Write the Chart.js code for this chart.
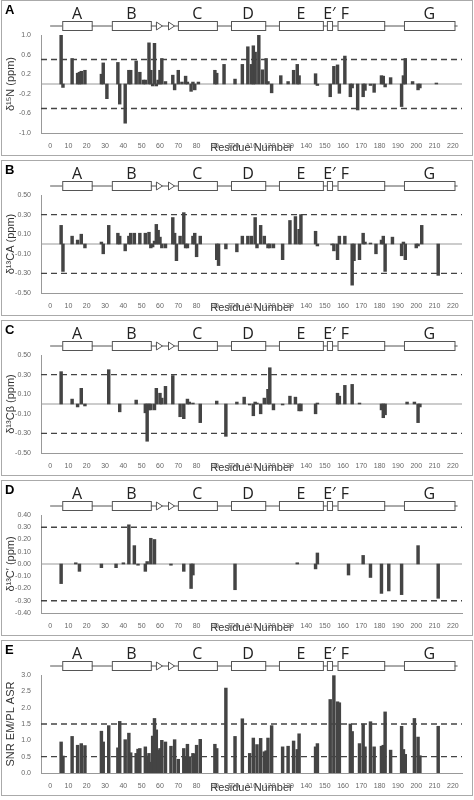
<!DOCTYPE html>
<html>
<head>
<meta charset="utf-8">
<script src="https://cdn.jsdelivr.net/npm/chart.js@4"></script>
<style>
  body { margin: 0; background: #fff; font-family: "Open Sans", "DejaVu Sans", sans-serif; }
  .panel { position: relative; width: 470px; height: 154px; margin: 0 0 4px 1px; border: 1px solid #aaa; }
  .panel .tag { position: absolute; left: 3px; top: 1px; font: bold 13px Arial, "Liberation Sans", sans-serif; }
</style>
</head>
<body>
<div class="panel"><span class="tag">A</span><canvas id="cA"></canvas></div>
<div class="panel"><span class="tag">B</span><canvas id="cB"></canvas></div>
<div class="panel"><span class="tag">C</span><canvas id="cC"></canvas></div>
<div class="panel"><span class="tag">D</span><canvas id="cD"></canvas></div>
<div class="panel"><span class="tag">E</span><canvas id="cE"></canvas></div>
<script>
// secondary structure (residue ranges)
const helixNames = ["A", "B", "C", "D", "E", "E\u2032", "F", "G"];
const helixStart = [6.6, 33.7, 69.8, 98.8, 125, 151.2, 157, 193.3];
const helixEnd   = [22.7, 55, 91.1, 117.5, 149, 154, 182.5, 220.9];
const strandPos  = [59.7, 66.3];

// A: 15N
const aRes = [6,7,12,15,16,17,19,28,29,31,37,38,41,43,44,47,49,51,52,54,55,56,57,58,59,60,61,63,67,68,70,72,74,75,77,78,79,81,90,91,95,101,105,108,110,111,112,114,116,118,119,121,126,130,133,135,136,145,146,153,155,157,158,161,164,165,168,171,172,175,177,181,182,183,186,192,193,194,198,201,202,211];
const aVal = [1.0,-0.07,0.52,0.22,0.24,0.26,0.28,0.2,0.43,-0.3,0.44,-0.41,-0.8,0.28,0.28,0.47,0.24,0.08,0.08,0.84,0.28,-0.04,0.83,-0.04,0.08,0.28,0.52,0.05,0.18,-0.12,0.28,0.04,0.16,0.04,-0.15,0.04,-0.12,0.04,0.28,0.22,0.4,0.1,0.4,0.76,0.4,0.78,0.65,1.0,0.29,0.52,0.05,-0.18,0.17,0.05,0.28,0.4,0.17,0.21,-0.03,-0.26,0.36,0.39,-0.19,0.57,-0.26,-0.08,-0.53,-0.26,-0.13,-0.03,-0.17,0.17,0.16,-0.06,0.13,-0.46,0.17,0.52,0.05,-0.12,-0.08,0.02];

// B: 13CA
const bRes = [6,7,12,15,17,19,28,29,32,37,38,41,43,44,46,49,52,54,55,56,57,58,59,60,61,63,67,68,69,71,73,74,75,78,79,80,82,91,92,96,102,105,108,110,112,113,115,117,119,120,122,127,131,134,136,137,145,146,154,155,157,158,161,165,166,169,171,172,175,178,181,182,183,187,192,193,194,200,201,203,212];
const bVal = [0.19,-0.28,0.08,0.04,0.1,-0.04,0.02,-0.1,0.19,0.11,0.08,-0.07,0.08,0.11,0.11,0.11,0.11,0.12,-0.04,-0.03,0.03,0.2,0.14,0.07,-0.04,-0.04,0.27,0.11,-0.17,0.08,0.32,-0.04,-0.04,0.08,0.11,-0.13,0.08,-0.16,-0.22,-0.05,-0.08,0.08,0.08,0.08,0.27,-0.04,0.19,0.08,-0.04,-0.04,-0.04,-0.16,0.24,0.28,0.15,0.3,0.13,-0.02,-0.01,-0.07,-0.16,0.08,0.08,-0.42,-0.17,-0.16,0.11,0.02,0.01,-0.1,0.04,0.08,-0.28,0.07,-0.12,0.02,-0.16,-0.04,-0.02,0.19,-0.32];

// C: 13CB
const cRes = [6,12,15,17,19,32,38,47,52,53,54,55,57,58,60,61,63,67,71,73,75,76,78,82,91,96,102,106,109,111,112,113,115,117,119,120,122,127,131,134,136,137,145,146,157,158,161,165,169,181,182,183,195,199,201,202];
const cVal = [0.33,0.05,-0.03,0.16,-0.02,0.35,-0.08,0.04,-0.09,-0.38,-0.06,-0.06,-0.06,0.16,0.11,0.06,0.18,0.29,-0.13,-0.15,0.05,0.02,0.01,-0.19,0.03,-0.33,0.02,0.07,-0.01,-0.12,0.02,0.01,-0.1,0.06,0.15,0.37,-0.06,-0.01,0.08,0.07,-0.07,-0.07,-0.1,0.01,0.11,0.08,0.19,0.2,0.01,-0.06,-0.14,-0.11,0.02,0.02,-0.19,-0.03];

// D: 13C'
const dRes = [6,14,16,28,36,40,43,46,48,52,53,55,57,66,73,77,78,101,135,145,146,163,171,175,181,185,192,201,212];
const dVal = [-0.16,0.01,-0.06,-0.03,-0.03,0.01,0.32,0.15,-0.01,-0.06,0.02,0.21,0.2,-0.01,-0.06,-0.2,-0.09,-0.21,0.01,-0.04,0.09,-0.09,0.07,-0.11,-0.24,-0.22,-0.25,0.15,-0.28];

// E: SNR ratio
const eRes = [6,7,12,15,17,19,28,29,32,37,38,41,43,44,47,48,49,52,53,54,55,56,57,58,59,60,61,63,66,68,70,73,74,75,76,78,79,80,82,90,91,96,101,105,109,111,113,115,117,118,119,121,127,130,133,135,136,145,146,153,155,157,158,164,165,169,171,172,175,177,181,182,183,186,192,193,194,199,201,202,212];
const eVal = [0.95,0.52,1.12,0.85,0.9,0.84,1.28,0.95,1.45,0.77,1.58,1.02,1.22,0.62,0.6,0.73,0.75,0.8,0.52,0.6,0.33,1.13,1.67,1.32,0.7,0.75,1.0,0.95,0.82,1.02,0.42,0.75,0.5,0.88,0.5,0.6,0.58,0.85,1.03,0.88,0.75,2.6,1.12,1.66,0.6,1.07,0.87,1.06,0.65,0.68,1.07,1.45,0.8,0.82,0.98,0.72,1.2,0.8,0.9,2.25,2.98,2.18,2.15,1.5,1.27,0.9,1.5,0.8,1.57,0.8,0.82,0.85,1.87,0.7,1.43,0.72,0.57,1.67,1.1,0.53,1.43];

const ink = "#444";

const structurePlugin = {
  id: "structure",
  afterDraw(chart) {
    const ctx = chart.ctx, x = chart.scales.x;
    const yl = 25, top = 20, bot = 29;
    ctx.save();
    ctx.strokeStyle = "#555";
    ctx.lineWidth = 1;
    ctx.beginPath();
    ctx.moveTo(x.getPixelForValue(0), yl);
    ctx.lineTo(x.getPixelForValue(222.6), yl);
    ctx.stroke();
    ctx.textAlign = "center";
    ctx.textBaseline = "middle";
    ctx.font = "16px 'Open Sans', sans-serif";
    helixNames.forEach((n, i) => {
      const x0 = x.getPixelForValue(helixStart[i]), x1 = x.getPixelForValue(helixEnd[i]);
      ctx.fillStyle = "#fff";
      ctx.fillRect(x0, top, x1 - x0, bot - top);
      ctx.strokeRect(x0 + 0.5, top + 0.5, x1 - x0, bot - top);
      ctx.fillStyle = "#222";
      const lx = n === "F" ? (x0 + x1) / 2 - 16 : (x0 + x1) / 2;
      ctx.fillText(n, lx, 13);
    });
    strandPos.forEach(p => {
      const px = x.getPixelForValue(p);
      ctx.fillStyle = "#fff";
      ctx.beginPath();
      ctx.moveTo(px - 3, 21);
      ctx.lineTo(px + 3, 25);
      ctx.lineTo(px - 3, 29);
      ctx.closePath();
      ctx.fill();
      ctx.stroke();
    });
    // threshold lines
    const y = chart.scales.y, area = chart.chartArea;
    ctx.strokeStyle = ink;
    ctx.lineWidth = 1.3;
    ctx.setLineDash([6, 4]);
    chart.options.plugins.structure.dashes.forEach(v => {
      const py = y.getPixelForValue(v);
      ctx.beginPath();
      ctx.moveTo(area.left, py);
      ctx.lineTo(area.right, py);
      ctx.stroke();
    });
    ctx.restore();
  },
  beforeDatasetsDraw(chart) {
    if (!chart.options.plugins.structure.zero) return;
    const ctx = chart.ctx, y = chart.scales.y, area = chart.chartArea;
    const py = y.getPixelForValue(0);
    ctx.save();
    ctx.strokeStyle = "#999";
    ctx.lineWidth = 1;
    ctx.beginPath();
    ctx.moveTo(area.left, py);
    ctx.lineTo(area.right, py);
    ctx.stroke();
    ctx.restore();
  }
};

function makePanel(id, res, vals, yMin, yMax, yStep, yLabel, dashes, digits, zero) {
  new Chart(document.getElementById(id), {
    type: "bar",
    data: {
      datasets: [{
        data: res.map((r, i) => ({ x: r, y: vals[i] })),
        backgroundColor: ink,
        barThickness: 2.8
      }]
    },
    options: {
      responsive: true,
      maintainAspectRatio: false,
      animation: false,
      layout: { padding: { top: 34, right: 10, left: 2, bottom: 0 } },
      plugins: { legend: { display: false }, tooltip: { enabled: false }, structure: { dashes, zero } },
      scales: {
        x: {
          type: "linear", min: 0, max: 220,
          grid: { display: false },
          border: { color: "#999" },
          afterFit: s => { s.height = 22; },
          ticks: { stepSize: 10, color: "#666", font: { size: 7 }, maxRotation: 0, padding: 1 },
          title: { display: true, text: "Residue Number", color: "#333", font: { size: 11 }, padding: 0 }
        },
        y: {
          min: yMin, max: yMax,
          grid: { display: false },
          border: { color: "#999" },
          afterFit: s => { s.width = 37; },
          ticks: { stepSize: yStep, color: "#666", font: { size: 7 }, padding: 2,
                   callback: v => v.toFixed(digits) },
          title: { display: true, text: yLabel, color: "#333", font: { size: 11 }, padding: 0 }
        }
      }
    },
    plugins: [structurePlugin]
  });
}

makePanel("cA", aRes, aVal, -1, 1, 0.2, "\u03b4\u00b9\u2075N (ppm)", [0.5, -0.5], 1, true);
makePanel("cB", bRes, bVal, -0.5, 0.5, 0.1, "\u03b4\u00b9\u00b3CA (ppm)", [0.3, -0.3], 2, true);
makePanel("cC", cRes, cVal, -0.5, 0.5, 0.1, "\u03b4\u00b9\u00b3C\u03b2 (ppm)", [0.3, -0.3], 2, true);
makePanel("cD", dRes, dVal, -0.4, 0.4, 0.1, "\u03b4\u00b9\u00b3C\u2032 (ppm)", [0.3, -0.3], 2, true);
makePanel("cE", eRes, eVal, 0, 3, 0.5, "SNR EM/PL ASR", [1.5, 0.5], 1, false);
</script>
</body>
</html>
